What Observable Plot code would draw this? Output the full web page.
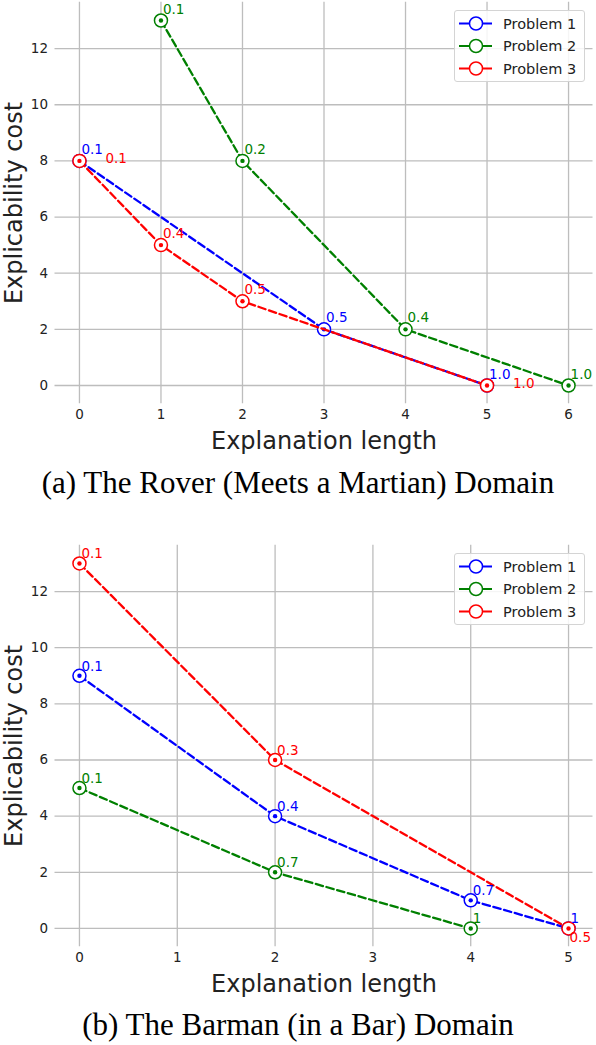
<!DOCTYPE html>
<html>
<head>
<meta charset="utf-8">
<script src="https://cdn.jsdelivr.net/npm/d3@7"></script>
<script src="https://cdn.jsdelivr.net/npm/@observablehq/plot@0.6"></script>
<style>
  body { margin: 0; background: #fff; }
  #page { width: 596px; }
  .chart { position: relative; }
  .caption {
    font-family: "Liberation Serif", "Times New Roman", serif;
    font-size: 31px;
    line-height: 34px;
    text-align: center;
    color: #000;
    white-space: nowrap;
  }
  .legend {
    position: absolute;
    left: 454px;
    width: 131px;
    height: 72px;
    box-sizing: border-box;
    border: 1px solid #d4d4d4;
    border-radius: 3px;
    background: rgba(255, 255, 255, 0.85);
  }
</style>
</head>
<body>
<div id="page">
  <div id="rover" class="chart"></div>
  <div class="caption" style="padding-top:8px;height:64px">(a) The Rover (Meets a Martian) Domain</div>
  <div id="barman" class="chart"></div>
  <div class="caption" style="padding-top:7px">(b) The Barman (in a Bar) Domain</div>
</div>
<script>
// series
const problems = ["Problem 1", "Problem 2", "Problem 3"];
const colors = ["#0000ff", "#008000", "#ff0000"];

// (a) Rover domain
const roverLength = [[0, 3, 5], [1, 2, 4, 6], [0, 1, 2, 5]];
const roverCost = [[8, 2, 0], [13, 8, 2, 0], [8, 5, 3, 0]];
const roverLabel = [["0.1", "0.5", "1.0"], ["0.1", "0.2", "0.4", "1.0"], ["0.1", "0.4", "0.5", "1.0"]];
const roverTicksX = [0, 1, 2, 3, 4, 5, 6];

// (b) Barman domain
const barmanLength = [[0, 2, 4, 5], [0, 2, 4], [0, 2, 5]];
const barmanCost = [[9, 4, 1, 0], [5, 2, 0], [13, 6, 0]];
const barmanLabel = [["0.1", "0.4", "0.7", "1"], ["0.1", "0.7", "1"], ["0.1", "0.3", "0.5"]];
const barmanTicksX = [0, 1, 2, 3, 4, 5];

const ticksY = [0, 2, 4, 6, 8, 10, 12];

function drawChart(sel, lengths, costs, labels, ticksX, opts) {
  const rows = problems.flatMap((p, i) => lengths[i].map((x, k) => ({
    i, x, y: costs[i][k], label: labels[i][k]
  })));
  // a point that an earlier series already labelled gets its label moved aside
  rows.forEach(d => {
    d.shared = rows.some(e => e.i < d.i && e.x === d.x && e.y === d.y);
  });

  const marginLeft = 54.5, marginRight = 3.5, marginBottom = 55;
  const plotH = 401.5;

  const marks = [
    Plot.gridX(ticksX, {stroke: "#bdbdbd", strokeOpacity: 1, strokeWidth: 1.3}),
    Plot.gridY(ticksY, {stroke: "#bdbdbd", strokeOpacity: 1, strokeWidth: 1.3}),
    Plot.axisX(ticksX, {tickSize: 0, tickPadding: 6, fontSize: 13.5, fill: "#222", label: null}),
    Plot.axisY(ticksY, {tickSize: 0, tickPadding: 7, fontSize: 13.5, fill: "#222", label: null}),
    Plot.text(["Explanation length"], {
      text: d => d, frameAnchor: "bottom", lineAnchor: "bottom", dy: 45,
      fontSize: 24, fill: "#222"
    }),
    Plot.text(["Explicability cost"], {
      text: d => d, frameAnchor: "left", rotate: -90, textAnchor: "middle",
      lineAnchor: "top", dx: -(marginLeft - 4), fontSize: 24, fill: "#222"
    })
  ];

  problems.forEach((p, i) => {
    const pts = rows.filter(d => d.i === i);
    marks.push(
      Plot.line(pts, {x: "x", y: "y", stroke: colors[i], strokeWidth: 2.3, strokeDasharray: "7.5,3.6"}),
      Plot.dot(pts, {x: "x", y: "y", r: 6.5, stroke: colors[i], strokeWidth: 1.5, fill: "white"}),
      Plot.dot(pts, {x: "x", y: "y", r: 2.2, fill: colors[i], stroke: null})
    );
  });

  problems.forEach((p, i) => {
    const pts = rows.filter(d => d.i === i);
    marks.push(
      Plot.text(pts.filter(d => !d.shared), {
        x: "x", y: "y", text: "label", fill: colors[i], fontSize: 13.5,
        textAnchor: "start", lineAnchor: "bottom", dx: 2, dy: opts.labelDy
      }),
      Plot.text(pts.filter(d => d.shared), {
        x: "x", y: "y", text: "label", fill: colors[i], fontSize: 13.5,
        textAnchor: "start", lineAnchor: "bottom", dx: opts.sharedDx, dy: opts.sharedDy
      })
    );
  });

  const chart = Plot.plot({
    width: 596,
    height: opts.marginTop + plotH + marginBottom,
    marginTop: opts.marginTop,
    marginBottom,
    marginLeft,
    marginRight,
    style: {fontFamily: "DejaVu Sans, sans-serif", fontSize: "13px", background: "white", overflow: "visible"},
    x: {domain: opts.xDomain},
    y: {domain: [-0.65, 13.65]},
    marks
  });

  const box = d3.select(sel);
  box.append(() => chart);

  // legend, drawn over the top right corner of the frame
  const legend = box.append("div")
    .attr("class", "legend")
    .style("top", opts.legendTop + "px");
  const svg = legend.append("svg").attr("width", 129).attr("height", 70);
  problems.forEach((p, i) => {
    const g = svg.append("g").attr("transform", `translate(0,${12.5 + i * 22.5})`);
    g.append("line").attr("x1", 4).attr("x2", 37)
      .attr("stroke", colors[i]).attr("stroke-width", 2);
    g.append("circle").attr("cx", 21).attr("r", 6.5)
      .attr("fill", "white").attr("stroke", colors[i]).attr("stroke-width", 1.5);
    g.append("text").attr("x", 48).attr("dy", "0.35em")
      .style("font-family", "DejaVu Sans, sans-serif").style("font-size", "14.5px")
      .attr("fill", "#222").text(p);
  });
}

drawChart("#rover", roverLength, roverCost, roverLabel, roverTicksX, {
  xDomain: [-0.3, 6.3], marginTop: 1.75, legendTop: 10,
  labelDy: -7, sharedDx: 26, sharedDy: 2
});

drawChart("#barman", barmanLength, barmanCost, barmanLabel, barmanTicksX, {
  xDomain: [-0.25, 5.25], marginTop: 14.7, legendTop: 23,
  labelDy: -5, sharedDx: 1, sharedDy: 14
});
</script>
</body>
</html>
